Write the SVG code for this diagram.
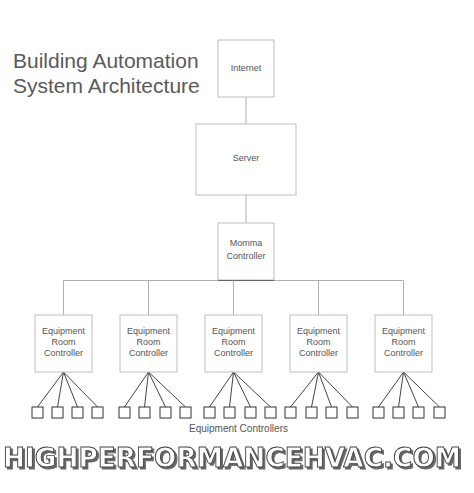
<svg xmlns="http://www.w3.org/2000/svg" width="474" height="493" viewBox="0 0 474 493">
<style>
.box{fill:#fff;stroke:#bdbdbd;stroke-width:1}
.lbl{font-family:"Liberation Sans",Arial,sans-serif;font-size:9px;fill:#555;text-anchor:middle}
.conn{stroke:#b0b0b0;stroke-width:1;fill:none}
.fan{stroke:#444;stroke-width:1;fill:none}
.sq{fill:#fff;stroke:#333;stroke-width:1}
.title{font-family:"Liberation Sans",Arial,sans-serif;font-size:21px;fill:#5a5a5a}
</style>
<defs>
<filter id="shadow" x="-5%" y="-30%" width="110%" height="160%">
<feOffset in="SourceAlpha" dx="2" dy="2" result="off"/>
<feFlood flood-color="#666"/>
<feComposite in2="off" operator="in" result="sh"/>
<feMerge><feMergeNode in="sh"/><feMergeNode in="SourceGraphic"/></feMerge>
</filter>
</defs>
<rect width="474" height="493" fill="#fff"/>
<g id="title">
<text class="title" x="13" y="68">Building Automation</text>
<text class="title" x="13" y="93">System Architecture</text>
</g>
<g id="connectors">
<line class="conn" x1="246" y1="97" x2="246" y2="124"/>
<line class="conn" x1="246" y1="195" x2="246" y2="223"/>
<line class="conn" x1="63.5" y1="280.5" x2="403.5" y2="280.5"/>
<line x1="218" y1="280" x2="274" y2="280" stroke="#111" stroke-width="2"/>
<line class="conn" x1="63.5" y1="280.5" x2="63.5" y2="315"/>
<line class="conn" x1="148.5" y1="280.5" x2="148.5" y2="315"/>
<line class="conn" x1="233.5" y1="280.5" x2="233.5" y2="315"/>
<line class="conn" x1="318.5" y1="280.5" x2="318.5" y2="315"/>
<line class="conn" x1="403.5" y1="280.5" x2="403.5" y2="315"/>
<g class="fan">
<path d="M63.5 372L37.5 407M63.5 372L57.5 407M63.5 372L77.5 407M63.5 372L97.5 407"/>
<path d="M148.5 372L124.5 407M148.5 372L144.5 407M148.5 372L165.5 407M148.5 372L185.5 407"/>
<path d="M233.5 372L209.5 407M233.5 372L229.5 407M233.5 372L250.5 407M233.5 372L270.5 407"/>
<path d="M318.5 372L290.5 407M318.5 372L311.5 407M318.5 372L331.5 407M318.5 372L352.5 407"/>
<path d="M403.5 372L378.5 407M403.5 372L398.5 407M403.5 372L418.5 407M403.5 372L439.5 407"/>
</g>
</g>
<g id="internet">
<rect class="box" x="218" y="40" width="56" height="57"/>
<text class="lbl" x="246" y="71">Internet</text>
</g>
<g id="server">
<rect class="box" x="196" y="124" width="100" height="71"/>
<text class="lbl" x="246" y="161">Server</text>
</g>
<g id="momma">
<rect class="box" x="218" y="223" width="56" height="57"/>
<text class="lbl" x="246" y="246">Momma</text>
<text class="lbl" x="246" y="259">Controller</text>
</g>
<g id="erc1">
<rect class="box" x="35" y="315" width="57" height="57"/>
<text class="lbl" x="63.5" y="334">Equipment</text><text class="lbl" x="63.5" y="345">Room</text><text class="lbl" x="63.5" y="356">Controller</text>
</g>
<g id="erc2">
<rect class="box" x="120" y="315" width="57" height="57"/>
<text class="lbl" x="148.5" y="334">Equipment</text><text class="lbl" x="148.5" y="345">Room</text><text class="lbl" x="148.5" y="356">Controller</text>
</g>
<g id="erc3">
<rect class="box" x="205" y="315" width="57" height="57"/>
<text class="lbl" x="233.5" y="334">Equipment</text><text class="lbl" x="233.5" y="345">Room</text><text class="lbl" x="233.5" y="356">Controller</text>
</g>
<g id="erc4">
<rect class="box" x="290" y="315" width="57" height="57"/>
<text class="lbl" x="318.5" y="334">Equipment</text><text class="lbl" x="318.5" y="345">Room</text><text class="lbl" x="318.5" y="356">Controller</text>
</g>
<g id="erc5">
<rect class="box" x="375" y="315" width="57" height="57"/>
<text class="lbl" x="403.5" y="334">Equipment</text><text class="lbl" x="403.5" y="345">Room</text><text class="lbl" x="403.5" y="356">Controller</text>
</g>
<g id="equipment-controllers">
<rect class="sq" x="32" y="407" width="11" height="11"/><rect class="sq" x="52" y="407" width="11" height="11"/><rect class="sq" x="72" y="407" width="11" height="11"/><rect class="sq" x="92" y="407" width="11" height="11"/>
<rect class="sq" x="119" y="407" width="11" height="11"/><rect class="sq" x="139" y="407" width="11" height="11"/><rect class="sq" x="160" y="407" width="11" height="11"/><rect class="sq" x="180" y="407" width="11" height="11"/>
<rect class="sq" x="204" y="407" width="11" height="11"/><rect class="sq" x="224" y="407" width="11" height="11"/><rect class="sq" x="245" y="407" width="11" height="11"/><rect class="sq" x="265" y="407" width="11" height="11"/>
<rect class="sq" x="285" y="407" width="11" height="11"/><rect class="sq" x="306" y="407" width="11" height="11"/><rect class="sq" x="326" y="407" width="11" height="11"/><rect class="sq" x="347" y="407" width="11" height="11"/>
<rect class="sq" x="373" y="407" width="11" height="11"/><rect class="sq" x="393" y="407" width="11" height="11"/><rect class="sq" x="413" y="407" width="11" height="11"/><rect class="sq" x="434" y="407" width="11" height="11"/>
<text class="lbl" x="238.5" y="432" style="font-size:10px">Equipment Controllers</text>
</g>
<g id="watermark" font-family="'DejaVu Sans',sans-serif" font-weight="bold" font-size="26" filter="url(#shadow)">
<text x="3" y="466.5" textLength="458" lengthAdjust="spacingAndGlyphs" fill="#fff" stroke="#444" stroke-width="0.9">HIGHPERFORMANCEHVAC.COM</text>
</g>
</svg>
